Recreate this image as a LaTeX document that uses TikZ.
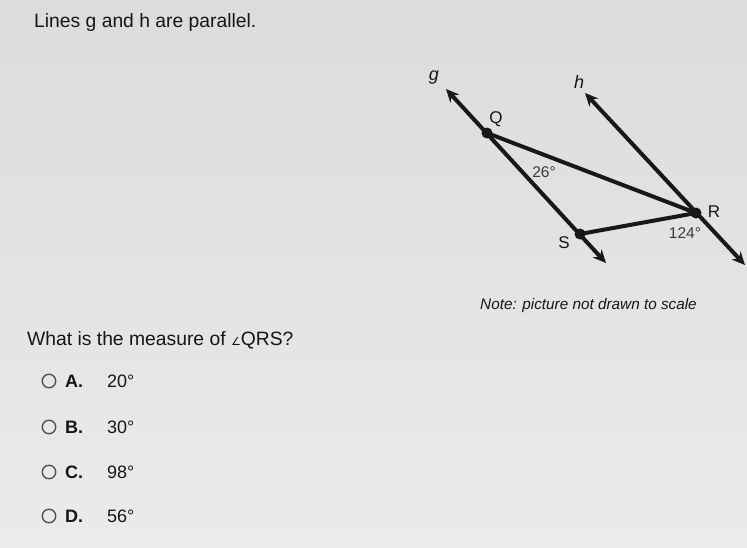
\documentclass[tikz,border=0pt]{standalone}
\usepackage{fontspec}
\setmainfont{Liberation Sans}
\newfontfamily\symfont{DejaVu Sans}
\usetikzlibrary{arrows.meta}
\definecolor{bgA}{RGB}{219,220,221}
\definecolor{bgB}{RGB}{233,236,233}
\definecolor{ink}{RGB}{24,24,28}
\definecolor{txt}{RGB}{22,22,26}
\tikzset{
  geoline/.style={draw=ink, line width=4pt},
  rayline/.style={geoline, {Stealth[length=13pt,width=12pt]}-{Stealth[length=13pt,width=12pt]}},
  ptdot/.style={circle, fill=ink, inner sep=0pt, minimum size=11pt},
  ptlabel/.style={text=txt, font=\fontsize{17}{19}\selectfont, inner sep=0pt},
  anglabel/.style={text=txt!85, font=\fontsize{15.5}{17}\selectfont, inner sep=0pt},
  linelabel/.style={text=txt, font=\fontsize{18}{20}\selectfont\itshape, inner sep=0pt},
  bodytext/.style={text=txt, font=\fontsize{19.3}{22}\selectfont, inner sep=0pt, anchor=west},
  notetext/.style={text=txt, font=\fontsize{15.3}{18}\selectfont\itshape, inner sep=0pt, anchor=west},
  choicecircle/.style={circle, draw=txt!75, line width=1.4pt, minimum size=13.5pt, inner sep=0pt},
  choiceletter/.style={text=txt, font=\fontsize{18}{20}\selectfont\bfseries, inner sep=0pt, anchor=west},
  choicevalue/.style={text=txt, font=\fontsize{18}{20}\selectfont, inner sep=0pt, anchor=west},
}
\begin{document}
\begin{tikzpicture}[x=1pt,y=-1pt]
\useasboundingbox (0,0) rectangle (747,547);
\shade[top color=bgA, bottom color=bgB] (0,0) rectangle (747,547);

% title
\node[bodytext] (title) at (34,23) {Lines g and h are parallel.};

% geometry
\coordinate (gtop) at (446,89);
\coordinate (gbot) at (606,263);
\coordinate (htop) at (585,93);
\coordinate (hbot) at (745,265);
\node[ptdot] (Q) at (487,133) {};
\node[ptdot] (S) at (580,234) {};
\node[ptdot] (R) at (696,213) {};

\draw[rayline] (gtop) -- (gbot);
\draw[rayline] (htop) -- (hbot);
\draw[geoline] (Q.center) -- (R.center);
\draw[geoline] (S.center) -- (R.center);

\node[linelabel] (lg) at (434,78) {g};
\node[linelabel] (lh) at (579,82) {h};
\node[ptlabel] (lQ) at (496,119) {Q};
\node[ptlabel] (lR) at (714,212) {R};
\node[ptlabel] (lS) at (564,243) {S};
\node[anglabel] (a26) at (544,172) {26°};
\node[anglabel] (a124) at (685,233) {124°};

% note
\node[notetext] (note) at (480,306) {Note: picture not drawn to scale};

% question
\node[bodytext] (question) at (27,340) {What is the measure of {\symfont\fontsize{11}{12}\selectfont\raisebox{-0.5pt}{∠}}QRS?};

% choices
\node[choicecircle] (cA) at (49,381) {};
\node[choiceletter] (lA) at (65,381) {A.};
\node[choicevalue] (vA) at (107,381) {20°};

\node[choicecircle] (cB) at (49,427) {};
\node[choiceletter] (lB) at (65,427) {B.};
\node[choicevalue] (vB) at (107,427) {30°};

\node[choicecircle] (cC) at (49,472) {};
\node[choiceletter] (lC) at (65,472) {C.};
\node[choicevalue] (vC) at (107,472) {98°};

\node[choicecircle] (cD) at (49,516) {};
\node[choiceletter] (lD) at (65,516) {D.};
\node[choicevalue] (vD) at (107,516) {56°};
\end{tikzpicture}
\end{document}
